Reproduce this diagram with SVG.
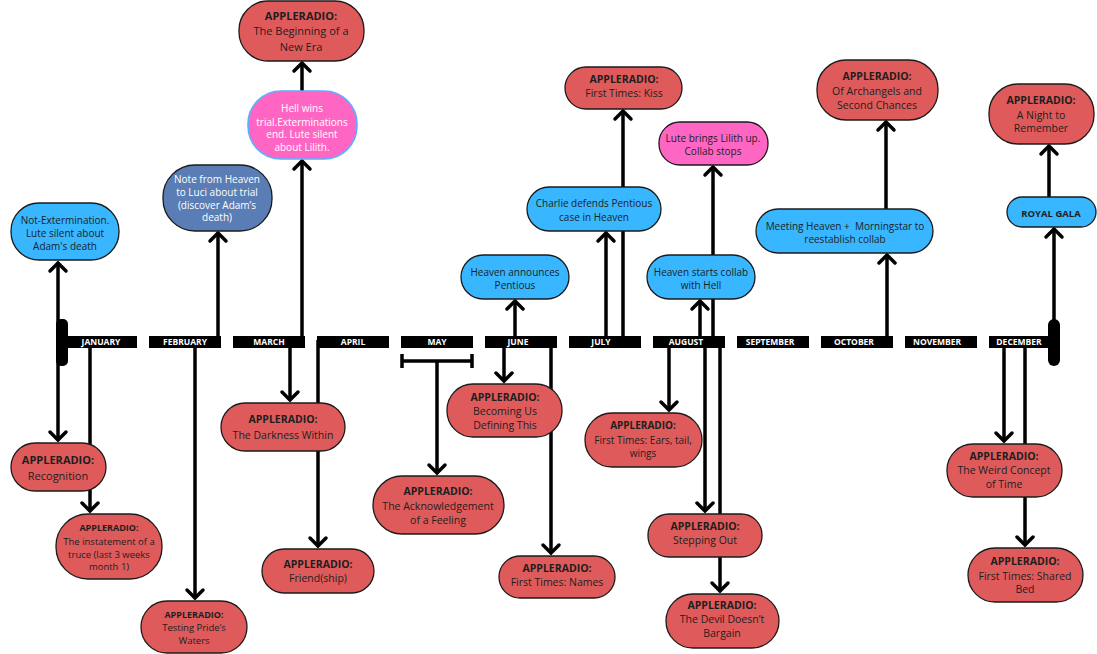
<svg xmlns="http://www.w3.org/2000/svg" width="1097" height="654" viewBox="0 0 1097 654">
<defs>
<style>
.bar{fill:#000}
.mt{font-family:"Open Sans","Liberation Sans",sans-serif;font-weight:700;font-size:8.5px;fill:#fff;text-anchor:middle}
.c{fill:none;stroke:#000;stroke-width:3.5}
.red{fill:#df5b5b;stroke:#1b1b1b;stroke-width:1.3}
.blue{fill:#38b6ff;stroke:#1b1b1b;stroke-width:1.3}
.pink{fill:#ff66c4;stroke:#1b1b1b;stroke-width:1.3}
.pinkb{fill:#ff66c4;stroke:#5ab0ff;stroke-width:1.6}
.steel{fill:#5a7db5;stroke:#1b1b1b;stroke-width:1.3}
.t{font-family:"Open Sans","Liberation Sans",sans-serif;text-anchor:middle;fill:#1e1e1e;font-size:10.5px}
.s{font-size:10px}
.xs{font-size:9.5px}
.w{fill:#fff}
.b{font-weight:700}
</style>
<marker id="ah" markerUnits="userSpaceOnUse" viewBox="-12 -10 14 20" markerWidth="14" markerHeight="20" refX="0" refY="0" orient="auto" overflow="visible">
<path d="M-8,-8 L0,0 L-8,8" fill="none" stroke="#000" stroke-width="3.5" stroke-linecap="round" stroke-linejoin="miter"/>
</marker>
</defs>
<rect width="1097" height="654" fill="#fff"/>

<g id="connectors">
<path class="c" d="M58,340 V263" marker-end="url(#ah)"/>
<path class="c" d="M58,345 V440" marker-end="url(#ah)"/>
<path class="c" d="M90,348 V511" marker-end="url(#ah)"/>
<path class="c" d="M218,337 V233" marker-end="url(#ah)"/>
<path class="c" d="M195,348 V598" marker-end="url(#ah)"/>
<path class="c" d="M302,337 V161" marker-end="url(#ah)"/>
<path class="c" d="M302,91 V63" marker-end="url(#ah)"/>
<path class="c" d="M290,348 V400" marker-end="url(#ah)"/>
<path class="c" d="M318,340 V546" marker-end="url(#ah)"/>
<path class="c" d="M402,361 H472 M402,354 V368 M472,354 V368"/>
<path class="c" d="M437,361 V473" marker-end="url(#ah)"/>
<path class="c" d="M515,337 V301" marker-end="url(#ah)"/>
<path class="c" d="M504,348 V381" marker-end="url(#ah)"/>
<path class="c" d="M551,348 V553" marker-end="url(#ah)"/>
<path class="c" d="M606,337 V233" marker-end="url(#ah)"/>
<path class="c" d="M623,337 V111" marker-end="url(#ah)"/>
<path class="c" d="M700,337 V301" marker-end="url(#ah)"/>
<path class="c" d="M713,337 V167" marker-end="url(#ah)"/>
<path class="c" d="M669,348 V410" marker-end="url(#ah)"/>
<path class="c" d="M705,348 V511" marker-end="url(#ah)"/>
<path class="c" d="M720,348 V591" marker-end="url(#ah)"/>
<path class="c" d="M887,337 V255" marker-end="url(#ah)"/>
<path class="c" d="M886,209 V122" marker-end="url(#ah)"/>
<path class="c" d="M1054,325 V229" marker-end="url(#ah)"/>
<path class="c" d="M1049,197 V146" marker-end="url(#ah)"/>
<path class="c" d="M1004,348 V441" marker-end="url(#ah)"/>
<path class="c" d="M1025,348 V545" marker-end="url(#ah)"/>
</g>

<g id="timeline">
<rect class="bar" x="65" y="336" width="72" height="12"/>
<rect class="bar" x="149" y="336" width="72" height="12"/>
<rect class="bar" x="233" y="336" width="72" height="12"/>
<rect class="bar" x="317" y="336" width="72" height="12"/>
<rect class="bar" x="401" y="336" width="72" height="12"/>
<rect class="bar" x="485" y="336" width="72" height="12"/>
<rect class="bar" x="569" y="336" width="72" height="12"/>
<rect class="bar" x="653" y="336" width="72" height="12"/>
<rect class="bar" x="737" y="336" width="72" height="12"/>
<rect class="bar" x="821" y="336" width="72" height="12"/>
<rect class="bar" x="905" y="336" width="72" height="12"/>
<rect class="bar" x="989" y="336" width="64" height="12"/>
<rect class="bar" x="56" y="319" width="12" height="47" rx="5"/>
<rect class="bar" x="1048" y="319" width="12" height="47" rx="6"/>
<text class="mt" x="101" y="345">JANUARY</text>
<text class="mt" x="185" y="345">FEBRUARY</text>
<text class="mt" x="269" y="345">MARCH</text>
<text class="mt" x="353" y="345">APRIL</text>
<text class="mt" x="437" y="345">MAY</text>
<text class="mt" x="518" y="345">JUNE</text>
<text class="mt" x="601" y="345">JULY</text>
<text class="mt" x="686" y="345">AUGUST</text>
<text class="mt" x="770" y="345">SEPTEMBER</text>
<text class="mt" x="854" y="345">OCTOBER</text>
<text class="mt" x="937" y="345">NOVEMBER</text>
<text class="mt" x="1019" y="345">DECEMBER</text>
</g>

<g id="n-notext">
<rect class="blue" x="11" y="203" width="108" height="57" rx="28"/>
<text class="t s" x="65"><tspan x="65" y="224">Not-Extermination.</tspan><tspan x="65" y="237">Lute silent about</tspan><tspan x="65" y="250">Adam's death</tspan></text>
</g>
<g id="n-note">
<rect class="steel" x="163" y="165" width="109" height="66" rx="32"/>
<text class="t s w"><tspan x="217" y="183">Note from Heaven</tspan><tspan x="217" y="196">to Luci about trial</tspan><tspan x="217" y="208.5">(discover Adam’s</tspan><tspan x="217" y="221">death)</tspan></text>
</g>
<g id="n-hellwins">
<rect class="pinkb" x="248" y="91" width="109" height="68" rx="33"/>
<text class="t s w"><tspan x="302" y="112">Hell wins</tspan><tspan x="302" y="125.5">trial.Exterminations</tspan><tspan x="302" y="138">end. Lute silent</tspan><tspan x="302" y="150.5">about Lilith.</tspan></text>
</g>
<g id="n-beginning">
<rect class="red" x="239" y="1" width="125" height="60" rx="29"/>
<text class="t" style="font-size:11px"><tspan class="b" x="301" y="20">APPLERADIO:</tspan><tspan x="301" y="35">The Beginning of a</tspan><tspan x="301" y="51">New Era</tspan></text>
</g>
<g id="n-recognition">
<rect class="red" x="11" y="443" width="95" height="48" rx="24"/>
<text class="t" style="font-size:11px"><tspan class="b" x="58" y="464">APPLERADIO:</tspan><tspan x="58" y="480">Recognition</tspan></text>
</g>
<g id="n-truce">
<rect class="red" x="56" y="514" width="106" height="65" rx="32"/>
<text class="t xs"><tspan class="b" x="109" y="531" style="font-size:9px">APPLERADIO:</tspan><tspan x="109" y="544.5">The instatement of a</tspan><tspan x="109" y="557.5">truce (last 3 weeks</tspan><tspan x="109" y="570">month 1)</tspan></text>
</g>
<g id="n-testing">
<rect class="red" x="141" y="601" width="106" height="52" rx="26"/>
<text class="t xs"><tspan class="b" x="194" y="618" style="font-size:9px">APPLERADIO:</tspan><tspan x="194" y="631">Testing Pride’s</tspan><tspan x="194" y="643.5">Waters</tspan></text>
</g>
<g id="n-darkness">
<rect class="red" x="221" y="403" width="124" height="48" rx="24"/>
<text class="t"><tspan class="b" x="283" y="423">APPLERADIO:</tspan><tspan x="283" y="439">The Darkness Within</tspan></text>
</g>
<g id="n-friendship">
<rect class="red" x="262" y="549" width="112" height="44" rx="22"/>
<text class="t"><tspan class="b" x="318" y="568">APPLERADIO:</tspan><tspan x="318" y="582">Friend(ship)</tspan></text>
</g>
<g id="n-ack">
<rect class="red" x="373" y="476" width="131" height="58" rx="29"/>
<text class="t"><tspan class="b" x="438" y="495">APPLERADIO:</tspan><tspan x="438" y="510">The Acknowledgement</tspan><tspan x="438" y="523.5">of a Feeling</tspan></text>
</g>
<g id="n-becoming">
<rect class="red" x="447" y="384" width="115" height="53" rx="26"/>
<text class="t"><tspan class="b" x="505" y="401">APPLERADIO:</tspan><tspan x="505" y="415">Becoming Us</tspan><tspan x="505" y="429">Defining This</tspan></text>
</g>
<g id="n-names">
<rect class="red" x="499" y="556" width="116" height="42" rx="21"/>
<text class="t"><tspan class="b" x="557" y="572">APPLERADIO:</tspan><tspan x="557" y="586">First Times: Names</tspan></text>
</g>
<g id="n-announces">
<rect class="blue" x="461" y="255" width="108" height="44" rx="22"/>
<text class="t s"><tspan x="515" y="276">Heaven announces</tspan><tspan x="515" y="289">Pentious</tspan></text>
</g>
<g id="n-charlie">
<rect class="blue" x="527" y="187" width="134" height="44" rx="22"/>
<text class="t s"><tspan x="594" y="207">Charlie defends Pentious</tspan><tspan x="594" y="221">case in Heaven</tspan></text>
</g>
<g id="n-kiss">
<rect class="red" x="565" y="67" width="117" height="42" rx="21"/>
<text class="t"><tspan class="b" x="624" y="83">APPLERADIO:</tspan><tspan x="624" y="97">First Times: Kiss</tspan></text>
</g>
<g id="n-lutelilith">
<rect class="pink" x="659" y="122" width="109" height="43" rx="21"/>
<text class="t s"><tspan x="713" y="142">Lute brings Lilith up.</tspan><tspan x="713" y="155">Collab stops</tspan></text>
</g>
<g id="n-startscollab">
<rect class="blue" x="647" y="255" width="108" height="44" rx="22"/>
<text class="t s"><tspan x="701" y="276">Heaven starts collab</tspan><tspan x="701" y="289">with Hell</tspan></text>
</g>
<g id="n-meeting">
<rect class="blue" x="756" y="209" width="177" height="44" rx="22"/>
<text class="t s" style="white-space:pre"><tspan x="845" y="230">Meeting Heaven +  Morningstar to</tspan><tspan x="845" y="243">reestablish collab</tspan></text>
</g>
<g id="n-archangels">
<rect class="red" x="817" y="60" width="121" height="60" rx="29"/>
<text class="t"><tspan class="b" x="877" y="80">APPLERADIO:</tspan><tspan x="877" y="95">Of Archangels and</tspan><tspan x="877" y="108.5">Second Chances</tspan></text>
</g>
<g id="n-night">
<rect class="red" x="989" y="84" width="105" height="60" rx="29"/>
<text class="t"><tspan class="b" x="1041" y="104">APPLERADIO:</tspan><tspan x="1041" y="118.5">A Night to</tspan><tspan x="1041" y="132">Remember</tspan></text>
</g>
<g id="n-gala">
<rect class="blue" x="1007" y="197" width="89" height="30" rx="15"/>
<text class="t b" x="1051" y="216.5" style="font-size:9.5px">ROYAL GALA</text>
</g>
<g id="n-weird">
<rect class="red" x="947" y="444" width="115" height="53" rx="26"/>
<text class="t"><tspan class="b" x="1004" y="459.5">APPLERADIO:</tspan><tspan x="1004" y="474">The Weird Concept</tspan><tspan x="1004" y="488">of Time</tspan></text>
</g>
<g id="n-shared">
<rect class="red" x="968" y="548" width="115" height="54" rx="27"/>
<text class="t"><tspan class="b" x="1025" y="565">APPLERADIO:</tspan><tspan x="1025" y="579.5">First Times: Shared</tspan><tspan x="1025" y="593">Bed</tspan></text>
</g>
<g id="n-ears">
<rect class="red" x="585" y="413" width="117" height="54" rx="27"/>
<text class="t s"><tspan class="b" x="643" y="429">APPLERADIO:</tspan><tspan x="643" y="443.5">First Times: Ears, tail,</tspan><tspan x="643" y="457">wings</tspan></text>
</g>
<g id="n-stepping">
<rect class="red" x="648" y="514" width="114" height="43" rx="21"/>
<text class="t"><tspan class="b" x="705" y="530">APPLERADIO:</tspan><tspan x="705" y="544">Stepping Out</tspan></text>
</g>
<g id="n-devil">
<rect class="red" x="666" y="594" width="113" height="54" rx="27"/>
<text class="t"><tspan class="b" x="722" y="608.5">APPLERADIO:</tspan><tspan x="722" y="623">The Devil Doesn’t</tspan><tspan x="722" y="637">Bargain</tspan></text>
</g>
</svg>
